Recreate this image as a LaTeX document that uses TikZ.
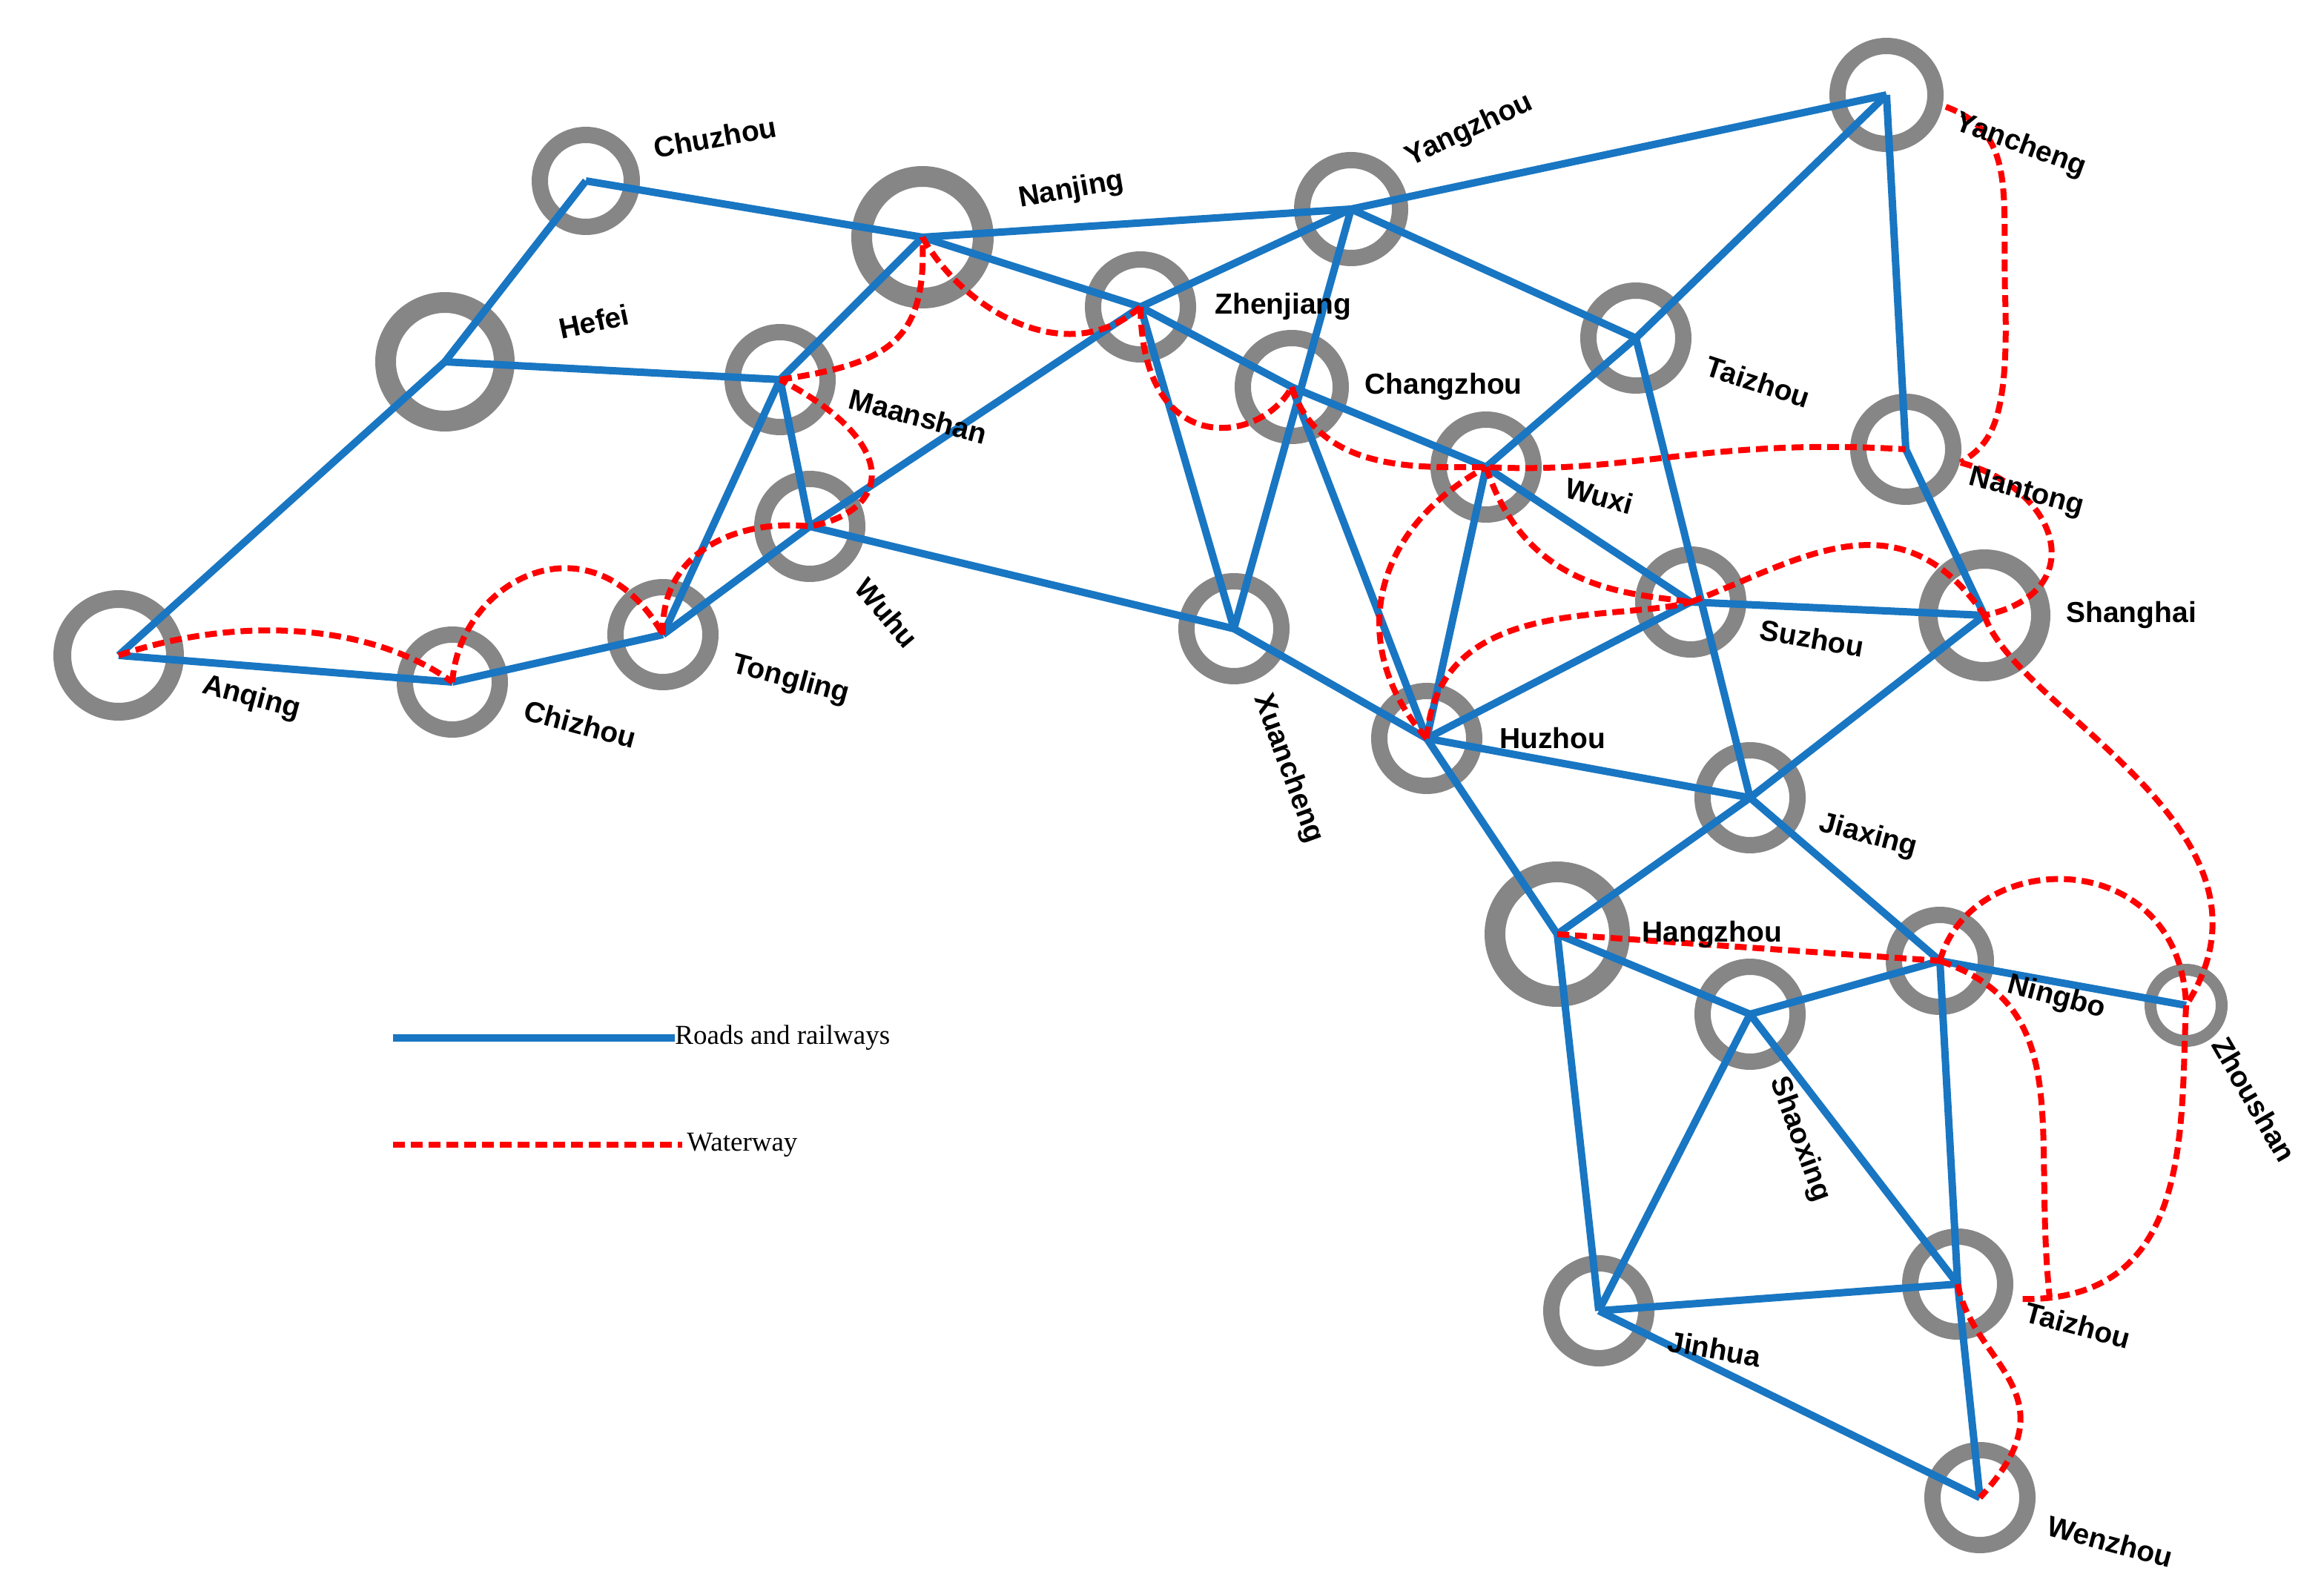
\documentclass[tikz,border=0pt]{standalone}
\usepackage{fontspec}
\setmainfont{Liberation Serif}
\newfontfamily\lab{Liberation Sans}
\begin{document}
\begin{tikzpicture}[x=1pt,y=-1pt,
 ring/.style={circle,draw=gray!95,line width=#1,inner sep=0pt},
 road/.style={draw={rgb,255:red,25;green,118;blue,194},line width=5pt},
 water/.style={draw=red,line width=4pt,dash pattern=on 8pt off 4pt},
 lbl/.style={font=\lab\bfseries\fontsize{19.5}{21}\selectfont,anchor=west,inner sep=1pt}]
\useasboundingbox (0,0) rectangle (1567,1075);
\foreach \n/\x/\y/\r/\t in {Chuzhou/395/122/62/11,Nanjing/622/160/82/14,Hefei/300/244/80/14,Maanshan/526/256/64/11,Wuhu/546/355/64/11,Anqing/80/442/76/12,Chizhou/305/460/64/11,Tongling/447/428/64/11,Zhenjiang/769/207/64/11,Yangzhou/911/141/66/11,Yancheng/1272/64/66/11,TaizhouN/1103/228/64/11,Changzhou/871/261/66/11,Wuxi/1002/315/64/11,Nantong/1285/303/64/11,Xuancheng/832/424/64/11,Suzhou/1140/406/64/11,Shanghai/1338/415/76/13,Huzhou/962/498/64/11,Jiaxing/1180/538/64/11,Hangzhou/1050/630/84/14,Shaoxing/1180/684/64/11,Ningbo/1308/648/62/11,Zhoushan/1474/678/48/8,Jinhua/1078/884/64/11,TaizhouS/1320/866/64/11,Wenzhou/1335/1010/64/11}
 {\node[ring=\t pt,minimum size=\r pt] (r\n) at (\x,\y) {}; \coordinate (\n) at (\x,\y);}
\foreach \a/\b in {Chuzhou/Nanjing,Chuzhou/Hefei,Hefei/Anqing,Hefei/Maanshan,Anqing/Chizhou,Chizhou/Tongling,Tongling/Maanshan,Tongling/Wuhu,Wuhu/Zhenjiang,Nanjing/Maanshan,Maanshan/Wuhu,Wuhu/Xuancheng,Nanjing/Yangzhou,Nanjing/Zhenjiang,Zhenjiang/Changzhou,Changzhou/Wuxi,Wuxi/Suzhou,Suzhou/Shanghai,Zhenjiang/Yangzhou,Zhenjiang/Xuancheng,Yangzhou/Xuancheng,Yangzhou/Yancheng,Yangzhou/TaizhouN,Yancheng/TaizhouN,TaizhouN/Wuxi,TaizhouN/Jiaxing,Yancheng/Nantong,Nantong/Shanghai,Changzhou/Huzhou,Wuxi/Huzhou,Suzhou/Huzhou,Huzhou/Jiaxing,Huzhou/Hangzhou,Xuancheng/Huzhou,Shanghai/Jiaxing,Jiaxing/Hangzhou,Jiaxing/Ningbo,Hangzhou/Shaoxing,Hangzhou/Jinhua,Shaoxing/Ningbo,Ningbo/Zhoushan,Shaoxing/Jinhua,Shaoxing/TaizhouS,Ningbo/TaizhouS,TaizhouS/Wenzhou,Jinhua/TaizhouS,Jinhua/Wenzhou}
 {\draw[road] (\a) -- (\b);}
\draw[water] (Anqing) .. controls (160,415) and (250,420) .. (Chizhou);
\draw[water] (Chizhou) .. controls (310,390) and (400,345) .. (Tongling);
\draw[water] (Tongling) .. controls (445,370) and (500,350) .. (Wuhu) .. controls (600,345) and (610,300) .. (Maanshan);
\draw[water] (Maanshan) .. controls (600,245) and (625,230) .. (Nanjing);
\draw[water] (Nanjing) .. controls (650,210) and (720,250) .. (Zhenjiang);
\draw[water] (Zhenjiang) .. controls (770,310) and (850,300) .. (Changzhou);
\draw[water] (Changzhou) .. controls (890,320) and (960,315) .. (Wuxi) .. controls (1100,320) and (1150,295) .. (Nantong);
\draw[water] (Yancheng)+(40,8) .. controls (1360,90) and (1350,130) .. (1352,200) .. controls (1355,290) and (1340,300) .. (1322,312);
\draw[water] (1322,312) .. controls (1390,330) and (1410,400) .. (Shanghai);
\draw[water] (Wuxi) .. controls (1030,400) and (1100,400) .. (Suzhou);
\draw[water] (Huzhou) .. controls (910,440) and (920,360) .. (Wuxi);
\draw[water] (Huzhou) .. controls (970,400) and (1090,420) .. (Suzhou);
\draw[water] (Suzhou) .. controls (1210,380) and (1280,330) .. (Shanghai);
\draw[water] (Shanghai) .. controls (1360,480) and (1550,560) .. (Zhoushan);
\draw[water] (Hangzhou) -- (Ningbo);
\draw[water] (Ningbo) .. controls (1330,570) and (1470,570) .. (Zhoushan);
\draw[water] (Ningbo) .. controls (1400,680) and (1370,760) .. (1382,875);
\draw[water] (Zhoushan) .. controls (1470,760) and (1480,880) .. (1360,876);
\draw[water] (TaizhouS) .. controls (1330,920) and (1400,940) .. (Wenzhou);
\node[lbl,rotate=10] at (440,100) {Chuzhou};
\node[lbl,rotate=10] at (686,135) {Nanjing};
\node[lbl,rotate=12] at (376,222) {Hefei};
\node[lbl,rotate=-15] at (572,268) {Maanshan};
\node[lbl,rotate=-50] at (580,392) {Wuhu};
\node[lbl,rotate=-15] at (136,462) {Anqing};
\node[lbl,rotate=-15] at (353,478) {Chizhou};
\node[lbl,rotate=-15] at (493,448) {Tongling};
\node[lbl] at (818,207) {Zhenjiang};
\node[lbl,rotate=25] at (948,108) {Yangzhou};
\node[lbl,rotate=-20] at (1318,82) {Yancheng};
\node[lbl,rotate=-18] at (1150,246) {Taizhou};
\node[lbl] at (919,261) {Changzhou};
\node[lbl,rotate=-15] at (1055,328) {Wuxi};
\node[lbl,rotate=-15] at (1327,322) {Nantong};
\node[lbl,rotate=-70] at (850,468) {Xuancheng};
\node[lbl,rotate=-10] at (1186,424) {Suzhou};
\node[lbl] at (1392,415) {Shanghai};
\node[lbl] at (1010,498) {Huzhou};
\node[lbl,rotate=-15] at (1226,555) {Jiaxing};
\node[lbl] at (1106,630) {Hangzhou};
\node[lbl,rotate=-70] at (1198,726) {Shaoxing};
\node[lbl,rotate=-15] at (1353,664) {Ningbo};
\node[lbl,rotate=-60] at (1496,700) {Zhoushan};
\node[lbl,rotate=-10] at (1124,904) {Jinhua};
\node[lbl,rotate=-15] at (1365,884) {Taizhou};
\node[lbl,rotate=-15] at (1380,1028) {Wenzhou};
\coordinate (l1a) at (265,700); \coordinate (l1b) at (455,700);
\coordinate (l2a) at (265,772); \coordinate (l2b) at (460,772);
\draw[road] (l1a) -- (l1b);
\draw[water] (l2a) -- (l2b);
\node[anchor=west,inner sep=0pt,font=\fontsize{18.5}{20}\selectfont] (t1) at (455,700) {Roads and railways};
\node[anchor=west,inner sep=0pt,font=\fontsize{18.5}{20}\selectfont] (t2) at (463,772) {Waterway};
\end{tikzpicture}
\end{document}
